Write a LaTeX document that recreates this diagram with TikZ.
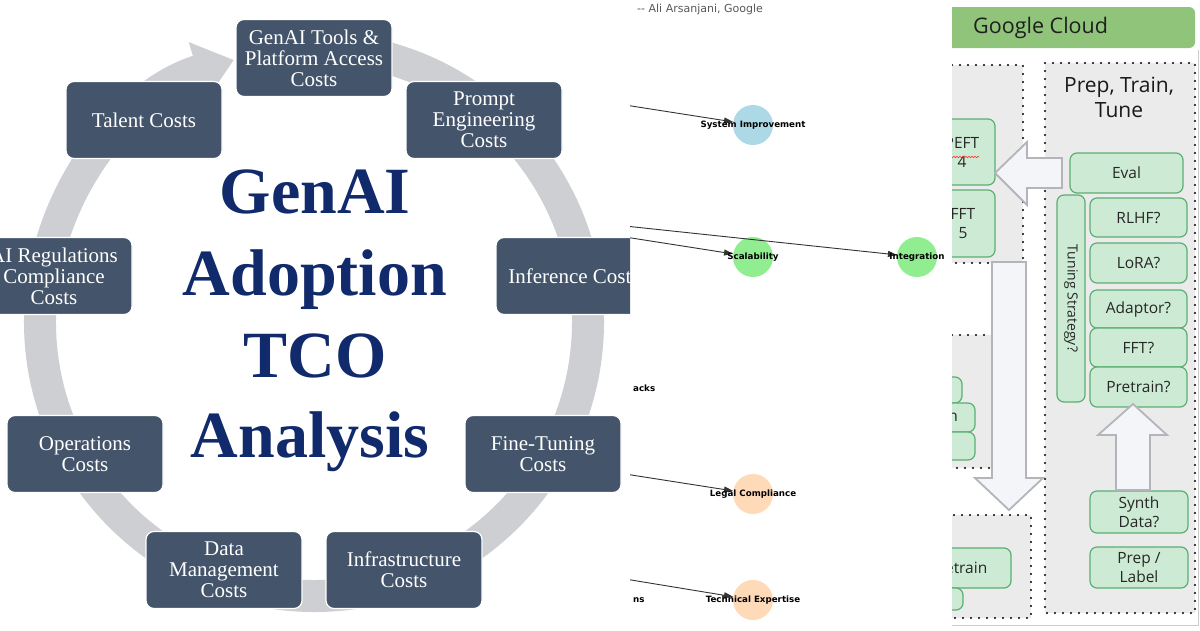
\documentclass[tikz,border=0pt]{standalone}
\usepackage{fontspec}
\usepackage{tikz}
\usetikzlibrary{arrows.meta,decorations.pathmorphing}
\newfontfamily\slidefont{Liberation Serif}
\newfontfamily\plotfont{DejaVu Sans}
\newfontfamily\cloudfont{Open Sans}
\definecolor{slate}{HTML}{44546A}
\definecolor{ringgray}{HTML}{CDCFD3}
\definecolor{navy}{HTML}{102A6B}
\definecolor{sysblue}{HTML}{ADD8E6}
\definecolor{growgreen}{HTML}{90EE90}
\definecolor{peach}{HTML}{FFDAB9}
\definecolor{cloudgreen}{HTML}{8FC47A}
\definecolor{stepfill}{HTML}{CDEBD4}
\definecolor{stepline}{HTML}{5BAF72}
\definecolor{zonegray}{HTML}{EBEBEB}
\definecolor{arrowfill}{HTML}{F4F5F9}
\definecolor{arrowline}{HTML}{B4B5BB}

\begin{document}
\begin{tikzpicture}[
  x=1pt, y=-1pt,
  costbox/.style={draw=white, line width=1.2pt, fill=slate, rounded corners=8pt,
    minimum width=156pt, minimum height=77pt, align=center, text=white,
    font=\slidefont\fontsize{21}{21}\selectfont},
  bigtitle/.style={text=navy, anchor=base, inner sep=0pt,
    font=\slidefont\bfseries\fontsize{66}{66}\selectfont},
  bubble/.style={circle, minimum size=40pt, inner sep=0pt},
  plotlabel/.style={inner sep=0pt, font=\plotfont\bfseries\fontsize{8.7}{9}\selectfont},
  plotedge/.style={draw=black!80, line width=0.9pt, -{Triangle[length=9pt,width=6pt]}},
  stepbox/.style={draw=stepline, fill=stepfill, line width=1.2pt, rounded corners=7pt,
    inner sep=0pt, align=center, text=black!85,
    font=\cloudfont\fontsize{15.5}{19}\selectfont},
  zone/.style={fill=zonegray, draw=black, line width=2.2pt, line cap=round,
    dash pattern=on 0pt off 8pt},
  bigarrow/.style={fill=arrowfill, draw=arrowline, line width=1.8pt, line join=miter}
]
\fill[white] (0,0) rectangle (1200,630);
\useasboundingbox (0,0) rectangle (1200,630);

\begin{scope}
\clip (630,0) rectangle (952,630);
\node[anchor=west, inner sep=0pt, text=black!65, font=\plotfont\fontsize{11}{13}\selectfont]
  (credit) at (637,9) {{-}{-} Ali Arsanjani, Google};
\node[bubble, fill=sysblue] (sysimp) at (753,125) {};
\node[bubble, fill=growgreen] (scal) at (753,257) {};
\node[bubble, fill=growgreen] (integ) at (917,257) {};
\node[bubble, fill=peach] (legal) at (753,494) {};
\node[bubble, fill=peach] (techexp) at (753,600) {};
\coordinate (fromsys) at (625,105);
\coordinate (fromint) at (625,226);
\coordinate (fromscal) at (625,237);
\coordinate (fromlegal) at (625,474);
\coordinate (fromtech) at (625,579);
\draw[plotedge] (fromsys) -- (sysimp);
\draw[plotedge] (fromint) -- (integ);
\draw[plotedge] (fromscal) -- (scal);
\draw[plotedge] (fromlegal) -- (legal);
\draw[plotedge] (fromtech) -- (techexp);
\node[plotlabel] (sysimplbl) at (sysimp) {System Improvement};
\node[plotlabel] (scallbl) at (scal) {Scalability};
\node[plotlabel] (integlbl) at (integ) {Integration};
\node[plotlabel] (legallbl) at (legal) {Legal Compliance};
\node[plotlabel] (techlbl) at (techexp) {Technical Expertise};
\node[plotlabel, anchor=west] (feedlbl) at (633,388) {acks};
\node[plotlabel, anchor=west] (optlbl) at (633,600) {ns};
\end{scope}

\begin{scope}
\clip (952,0) rectangle (1200,630);
\fill[cloudgreen, rounded corners=6pt] (930,7) rectangle (1195,48);
\node[anchor=west, inner sep=0pt, text=black!88, font=\cloudfont\fontsize{21.5}{24}\selectfont]
  (cloud) at (973,28) {Google Cloud};
\draw[zone] (930,65) rectangle (1023,263);
\draw[zone] (930,335) rectangle (1000,468);
\draw[zone] (930,515) rectangle (1031,618);
\draw[zone] (1045,63) rectangle (1195,613);
\node[align=center, inner sep=0pt, text=black!90, font=\cloudfont\fontsize{21}{25}\selectfont]
  (preptitle) at (1119,97) {Prep, Train,\\Tune};
\node[stepbox, minimum width=66pt, minimum height=66pt] (peft) at (962,152) {PEFT\\4};
\draw[red!80, line width=0.6pt, decorate, decoration={snake, amplitude=0.8pt, segment length=3pt}]
  (944,157) -- (979,157);
\node[stepbox, minimum width=64pt, minimum height=67pt] (fft) at (963,223.5) {FFT\\5};
\node[stepbox, minimum width=31pt, minimum height=26pt] (leftA) at (946.5,390) {};
\node[stepbox, minimum width=44pt, minimum height=29pt] (leftB) at (953,417.5) {n};
\node[stepbox, minimum width=44pt, minimum height=28pt] (leftC) at (953,446) {};
\node[stepbox, minimum width=105pt, minimum height=40pt] (pretrain) at (958.5,568) {Pretrain};
\node[stepbox, minimum width=57pt, minimum height=22pt] (leftD) at (934.5,599) {};
\node[stepbox, minimum width=113pt, minimum height=40pt] (eval) at (1126.5,173) {Eval};
\node[stepbox, rotate=-90, minimum width=207pt, minimum height=28pt,
  font=\cloudfont\fontsize{14}{16}\selectfont] (strategy) at (1071,298.5) {Tuning Strategy?};
\node[stepbox, minimum width=97pt, minimum height=39pt] (rlhf) at (1138.5,217.5) {RLHF?};
\node[stepbox, minimum width=97pt, minimum height=40pt] (lora) at (1138.5,263) {LoRA?};
\node[stepbox, minimum width=97pt, minimum height=38pt] (adaptor) at (1138.5,309) {Adaptor?};
\node[stepbox, minimum width=97pt, minimum height=39pt] (fftq) at (1138.5,347.5) {FFT?};
\node[stepbox, minimum width=97pt, minimum height=40pt] (pretrainq) at (1138.5,387) {Pretrain?};
\node[stepbox, minimum width=98pt, minimum height=42pt] (synth) at (1139,512) {Synth\\Data?};
\node[stepbox, minimum width=98pt, minimum height=41pt] (preplabel) at (1139,567.5) {Prep /\\Label};
\draw[bigarrow] (995,173) -- (1027,142) -- (1027,158) -- (1062,158) -- (1062,188)
  -- (1027,188) -- (1027,205) -- cycle;
\draw[bigarrow] (992,262) -- (1026,262) -- (1026,478) -- (1043,478) -- (1009,510)
  -- (975,478) -- (992,478) -- cycle;
\draw[bigarrow] (1133,404) -- (1167,435) -- (1150,435) -- (1150,490) -- (1116,490)
  -- (1116,435) -- (1098,435) -- cycle;
\draw[black!20, line width=1pt] (1198,50) -- (1198,625) -- (940,625);
\end{scope}

\begin{scope}
\clip (0,0) rectangle (630,630);
\fill[white] (0,0) rectangle (630,630);
\draw[ringgray, line width=32pt, -{Triangle[length=38pt,width=58pt]}]
  (314,322) ++(-85:274) arc[start angle=-85, end angle=253, radius=274];
\node[costbox] (tools) at (314,58) {GenAI Tools \&\\Platform Access\\Costs};
\node[costbox] (prompt) at (484,120) {Prompt\\Engineering\\Costs};
\node[costbox] (infer) at (574,276) {Inference Costs};
\node[costbox] (finetune) at (543,454) {Fine-Tuning\\Costs};
\node[costbox] (infra) at (404,570) {Infrastructure\\Costs};
\node[costbox] (datamgmt) at (224,570) {Data\\Management\\Costs};
\node[costbox] (ops) at (85,454) {Operations\\Costs};
\node[costbox] (regul) at (54,276) {AI Regulations\\Compliance\\Costs};
\node[costbox] (talent) at (144,120) {Talent Costs};
\node[bigtitle] (tgen) at (315,213) {GenAI};
\node[bigtitle] (tadopt) at (315,295) {Adoption};
\node[bigtitle] (ttco) at (315,377) {TCO};
\node[bigtitle] (tanal) at (310,457) {Analysis};
\end{scope}
\end{tikzpicture}
\end{document}
